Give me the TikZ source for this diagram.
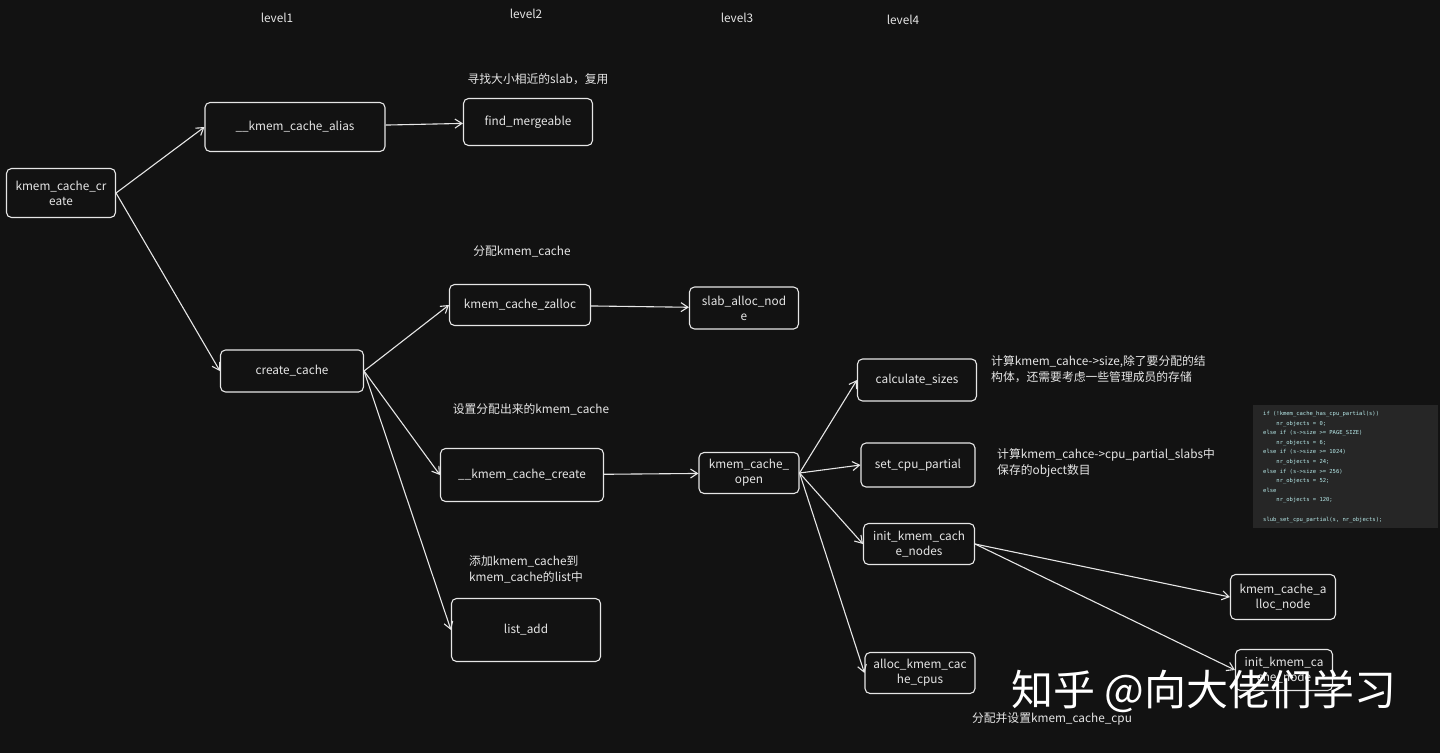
\documentclass[tikz,border=0pt]{standalone}
\usepackage{fontspec}
\setmainfont{Noto Sans CJK SC}
\setmonofont{DejaVu Sans Mono}
\usetikzlibrary{arrows.meta}
\definecolor{bg}{HTML}{121212}
\definecolor{fg}{HTML}{E6E6E6}
\begin{document}
\begin{tikzpicture}[x=1pt,y=-1pt,
  box/.style={draw=fg,line width=1.1pt,rounded corners=5pt,text=fg,font=\fontsize{11.8}{15}\selectfont,align=center,inner sep=2pt},
  lbl/.style={text=fg,font=\fontsize{11.8}{16}\selectfont,align=left,inner sep=0pt},
  conn/.style={draw=fg,line width=1.1pt,-{Straight Barb[length=7pt,width=9pt]}}]
\fill[bg] (0,0) rectangle (1440,753);
\useasboundingbox (0,0) rectangle (1440,753);
\newcommand\bx[6]{\node[box,minimum width=#4pt,minimum height=#5pt] (#1) at (#2,#3) {#6};}
\bx{kcc}{61}{193}{109}{49}{kmem\_cache\_cr\\eate}
\bx{alias}{295}{127}{180}{49}{\_\_kmem\_cache\_alias}
\bx{find}{528}{122}{129}{47}{find\_mergeable}
\bx{zalloc}{520}{305}{141}{41}{kmem\_cache\_zalloc}
\bx{slab}{744}{308}{109}{42}{slab\_alloc\_nod\\e}
\bx{cc}{292}{371}{143}{42}{create\_cache}
\bx{kcreate}{522}{475}{163}{53}{\_\_kmem\_cache\_create}
\bx{open}{749}{473}{100}{41}{kmem\_cache\_\\open}
\bx{calc}{917}{380}{119}{42}{calculate\_sizes}
\bx{setp}{918}{465}{114}{44}{set\_cpu\_partial}
\bx{initn}{919}{544}{111}{41}{init\_kmem\_cach\\e\_nodes}
\bx{allocc}{920}{673}{110}{41}{alloc\_kmem\_cac\\he\_cpus}
\bx{list}{526}{630}{149}{63}{list\_add}
\bx{kcan}{1283}{597}{105}{45}{kmem\_cache\_a\\lloc\_node}
\bx{ikcn}{1284}{670}{97}{41}{init\_kmem\_ca\\che\_node}
\node[lbl] (l1) at (277,18) {level1};
\node[lbl] (l2) at (526,14) {level2};
\node[lbl] (l3) at (737,18) {level3};
\node[lbl] (l4) at (903,20) {level4};
\node[lbl] (a1) at (538,79) {寻找大小相近的slab，复用};
\node[lbl] (a2) at (522,251) {分配kmem\_cache};
\node[lbl] (a3) at (531,409) {设置分配出来的kmem\_cache};
\node[lbl,anchor=west] (a4) at (469,569) {添加kmem\_cache到\\kmem\_cache的list中};
\node[lbl,anchor=west] (a5) at (991,369) {计算kmem\_cahce->size,除了要分配的结\\构体，还需要考虑一些管理成员的存储};
\node[lbl,anchor=west] (a6) at (997,463) {计算kmem\_cahce->cpu\_partial\_slabs中\\保存的object数目};
\node[lbl] (a7) at (1052,719) {分配并设置kmem\_cache\_cpu};
\draw[conn] (kcc.east) -- (alias.west);
\draw[conn] (kcc.east) -- (cc.west);
\draw[conn] (alias) -- (find);
\draw[conn] (cc.east) -- (zalloc.west);
\draw[conn] (cc.east) -- (kcreate.west);
\draw[conn] (cc.east) -- (list.west);
\draw[conn] (zalloc) -- (slab);
\draw[conn] (kcreate) -- (open);
\draw[conn] (open.east) -- (calc.west);
\draw[conn] (open.east) -- (setp.west);
\draw[conn] (open.east) -- (initn.west);
\draw[conn] (open.east) -- (allocc.west);
\draw[conn] (initn.east) -- (kcan.west);
\draw[conn] (initn.east) -- (ikcn.west);
\node[fill=black!85!white,minimum width=185pt,minimum height=123pt,inner sep=0pt] (code) at (1345.5,466.5) {};
\node[anchor=north west,align=left,font=\ttfamily\fontsize{5.5}{9.6}\selectfont,text=fg!80!cyan,inner sep=0pt] (codetext) at (1263,411) {if (!kmem\_cache\_has\_cpu\_partial(s))\\
\ \ \ \ nr\_objects = 0;\\
else if (s->size >= PAGE\_SIZE)\\
\ \ \ \ nr\_objects = 6;\\
else if (s->size >= 1024)\\
\ \ \ \ nr\_objects = 24;\\
else if (s->size >= 256)\\
\ \ \ \ nr\_objects = 52;\\
else\\
\ \ \ \ nr\_objects = 120;\\
\\
slub\_set\_cpu\_partial(s, nr\_objects);};
\node[text=white,font=\fontsize{42}{46}\selectfont,inner sep=0pt] (wm) at (1204,691) {知乎 @向大佬们学习};
\end{tikzpicture}
\end{document}
